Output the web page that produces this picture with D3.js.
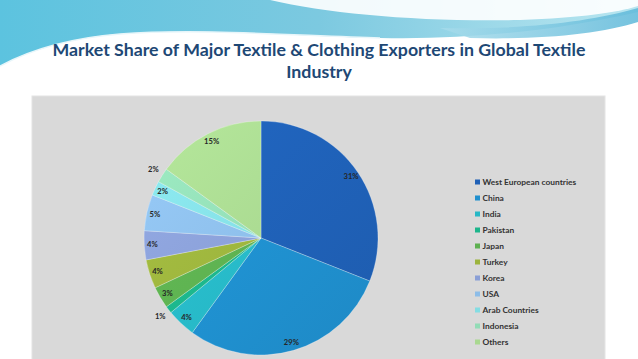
<!DOCTYPE html>
<html><head><meta charset="utf-8">
<script src="https://cdn.jsdelivr.net/npm/d3@7/dist/d3.min.js"></script>
<style>html,body{margin:0;padding:0;background:#fff;overflow:hidden}</style>
</head><body>
<svg id="c" width="638" height="359"></svg>
<script>
const categories = ["West European countries","China","India","Pakistan","Japan","Turkey","Korea","USA","Arab Countries","Indonesia","Others"];
const values = [31,29,4,1,3,4,4,5,2,2,15];
const colors = ["#1f60b6","#1f8fce","#27b8c6","#1cb58b","#5db050","#9cb43d","#8a9fd6","#8dbde8","#84dde3","#92dcb6","#a9d890"];
const outsideLabels = ["Pakistan","Indonesia"];
const titleLines = ["Market Share of Major Textile & Clothing Exporters in Global Textile","Industry"];

const svg = d3.select("#c");
const defs = svg.append("defs");

// banner gradients
const g1 = defs.append("linearGradient").attr("id","ban1").attr("x1","0").attr("y1","0").attr("x2","1").attr("y2","0");
g1.append("stop").attr("offset","0").attr("stop-color","#5cc3df");
g1.append("stop").attr("offset","0.5").attr("stop-color","#7cc9e0");
g1.append("stop").attr("offset","1").attr("stop-color","#b9e6f0");
const g2 = defs.append("linearGradient").attr("id","ban2").attr("x1","0").attr("y1","0").attr("x2","1").attr("y2","0");
g2.append("stop").attr("offset","0").attr("stop-color","#a8dceb");
g2.append("stop").attr("offset","1").attr("stop-color","#5db8d9");

// banner
svg.append("path").attr("d","M0,0 L638,0 L638,12 C560,30 470,40 380,38 C300,36 200,28 120,34 C70,38 30,50 0,66 Z").attr("fill","url(#ban1)");
svg.append("path").attr("d","M270,0 C330,14 420,22 520,20 C580,18 620,12 638,6 L638,0 Z").attr("fill","#ffffff").attr("opacity",0.9);
svg.append("path").attr("d","M440,28 C520,30 590,22 638,8 L638,22 C600,34 540,40 470,38 Z").attr("fill","url(#ban2)").attr("opacity",0.85);
svg.append("path").attr("d","M0,66 C30,50 70,38 120,34 C200,28 300,36 380,38").attr("fill","none").attr("stroke","#e8f6fa").attr("stroke-width",1.5);

// title
const title = svg.append("g");
titleLines.forEach((t,i)=>{
  title.append("text").attr("x",319).attr("y",56+i*22).attr("text-anchor","middle")
    .attr("font-family","Lato, 'Open Sans', sans-serif").attr("font-weight","bold")
    .attr("font-size",17).attr("fill","#1e4875").text(t);
});
const t0 = title.select("text").node();
const w0 = t0.getComputedTextLength();
const fs = 17*533/w0;
title.selectAll("text").attr("font-size",fs);

// plot area
svg.append("rect").attr("x",32).attr("y",96).attr("width",573).attr("height",270).attr("fill","#d9d9d9").attr("stroke","#e4e4e4").attr("stroke-width",1);

// pie
const cx = 261, cy = 238, r = 117;
const pie = d3.pie().sort(null).value(d=>d.v);
const data = categories.map((c,i)=>({c, v:values[i], col:colors[i]}));
const arcs = pie(data);
const arc = d3.arc().innerRadius(0).outerRadius(r);

data.forEach((d,i)=>{
  const gr = defs.append("linearGradient").attr("id","sg"+i).attr("gradientUnits","userSpaceOnUse")
    .attr("x1",cx-r).attr("y1",cy-r).attr("x2",cx+r).attr("y2",cy+r);
  const base = d3.color(d.col);
  gr.append("stop").attr("offset","0").attr("stop-color",base.brighter(0.2).formatHex());
  gr.append("stop").attr("offset","1").attr("stop-color",base.darker(0.12).formatHex());
});

const pg = svg.append("g").attr("transform",`translate(${cx},${cy})`);
pg.selectAll("path").data(arcs).join("path")
  .attr("d",arc).attr("fill",(d,i)=>`url(#sg${i})`)
  .attr("transform",`translate(${-cx},${-cy})`)
  .attr("d",d=>{ return arc(d); })
  .attr("transform",null)
  .attr("stroke","rgba(255,255,255,0.45)").attr("stroke-width",0.6);
// gradients use user space of the group: adjust to local coords
defs.selectAll("linearGradient[id^='sg']").attr("x1",-r).attr("y1",-r).attr("x2",r).attr("y2",r);

pg.selectAll("text").data(arcs).join("text")
  .attr("transform",d=>{
    const a = (d.startAngle+d.endAngle)/2;
    const rr = outsideLabels.includes(d.data.c) ? r*1.09 : r*0.93;
    return `translate(${Math.sin(a)*rr},${-Math.cos(a)*rr+2.5})`;
  })
  .attr("text-anchor","middle").attr("font-family","Lato, 'Open Sans', sans-serif")
  .attr("font-weight","bold").attr("font-size",7.6).attr("fill","#262626")
  .text(d=>d.data.v+"%");

// legend
const lg = svg.append("g").attr("transform","translate(475,182)");
const items = lg.selectAll("g").data(data).join("g").attr("transform",(d,i)=>`translate(0,${i*16})`);
items.append("rect").attr("x",0).attr("y",-2.5).attr("width",5).attr("height",5).attr("fill",d=>d.col);
items.append("text").attr("x",7.5).attr("y",3).attr("font-family","Lato, 'Open Sans', sans-serif")
  .attr("font-weight","bold").attr("font-size",8.4).attr("fill","#333").text(d=>d.c);
</script>
</body></html>
